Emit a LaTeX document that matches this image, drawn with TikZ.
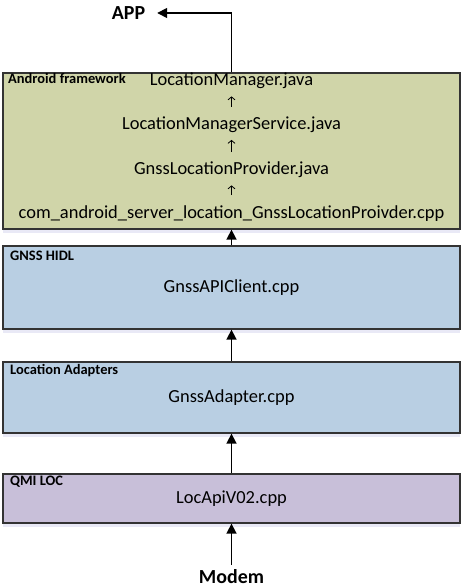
\documentclass[tikz,border=0pt]{standalone}
\usepackage{fontspec}
\setmainfont{Carlito}
\usetikzlibrary{positioning}
\usetikzlibrary{arrows.meta}
\usetikzlibrary{shadows}

\definecolor{frameworkgreen}{HTML}{D0D5A9}
\definecolor{hidlblue}{HTML}{B9CFE3}
\definecolor{qmipurple}{HTML}{C8BFD9}

\begin{document}
\begin{tikzpicture}[x=1bp,y=-1bp]
\tikzstyle{layer}=[rectangle,draw=black!80,line width=1.3bp,minimum width=457bp,inner sep=0pt,
                   font=\fontsize{18.5}{22}\selectfont,
                   drop shadow={shadow xshift=0bp,shadow yshift=-4bp,opacity=0.12,fill=blue!40!gray}]
\tikzstyle{tag}=[anchor=north west,inner sep=0pt,font=\bfseries\fontsize{14.5}{16}\selectfont]
\tikzstyle{file}=[anchor=base,inner sep=1bp,font=\fontsize{18.5}{22}\selectfont]
\tikzstyle{outside}=[fill=white,inner sep=0pt,font=\bfseries\fontsize{20}{22}\selectfont]
\tikzstyle{up}=[-{Triangle[length=10bp,width=10bp]},line width=1.6bp]
\tikzstyle{calls}=[-{Straight Barb[length=3bp,width=7bp]},line width=0.8bp,shorten >=6bp,shorten <=9bp]

\useasboundingbox (0,0) rectangle (464,588);

% layers
\node[layer,fill=frameworkgreen,minimum height=156bp] at (231.5,151) (framework) {};
\node[layer,fill=hidlblue,minimum height=83bp] at (231.5,287.5) (hidl) {GnssAPIClient.cpp};
\node[layer,fill=hidlblue,minimum height=71bp] at (231.5,397.5) (adapters) {GnssAdapter.cpp};
\node[layer,fill=qmipurple,minimum height=49bp] at (231.5,498.5) (qmi) {LocApiV02.cpp};

\node[tag] at (8,73) (frameworktag) {Android framework};
\node[tag] at (10,251) (hidltag) {GNSS HIDL};
\node[tag] at (10,364) (adapterstag) {Location Adapters};
\node[tag] at (10,476) (qmitag) {QMI LOC};

% framework files
\node[file] at (231.5,86) (lm) {LocationManager.java};
\node[file] at (231.5,129.5) (lms) {LocationManagerService.java};
\node[file] at (231.5,175) (glp) {GnssLocationProvider.java};
\node[file] at (231.5,218) (jni) {com\_android\_server\_location\_GnssLocationProivder.cpp};

\draw[calls] (lms.north) -- (lm.south);
\draw[calls] (glp.north) -- (lms.south);
\draw[calls] (jni.north) -- (glp.south);

% outside ends
\node[outside,minimum width=57bp,minimum height=28bp] at (128.5,13) (app) {APP};
\node[outside,minimum width=183bp,minimum height=23bp,anchor=north] at (231.5,565) (modem) {Modem};

\draw[up] (framework.north) |- (app.east);
\draw[up] (hidl.north) -- (framework.south);
\draw[up] (adapters.north) -- (hidl.south);
\draw[up] (qmi.north) -- (adapters.south);
\draw[up] (modem.north) -- (qmi.south);
\end{tikzpicture}
\end{document}
